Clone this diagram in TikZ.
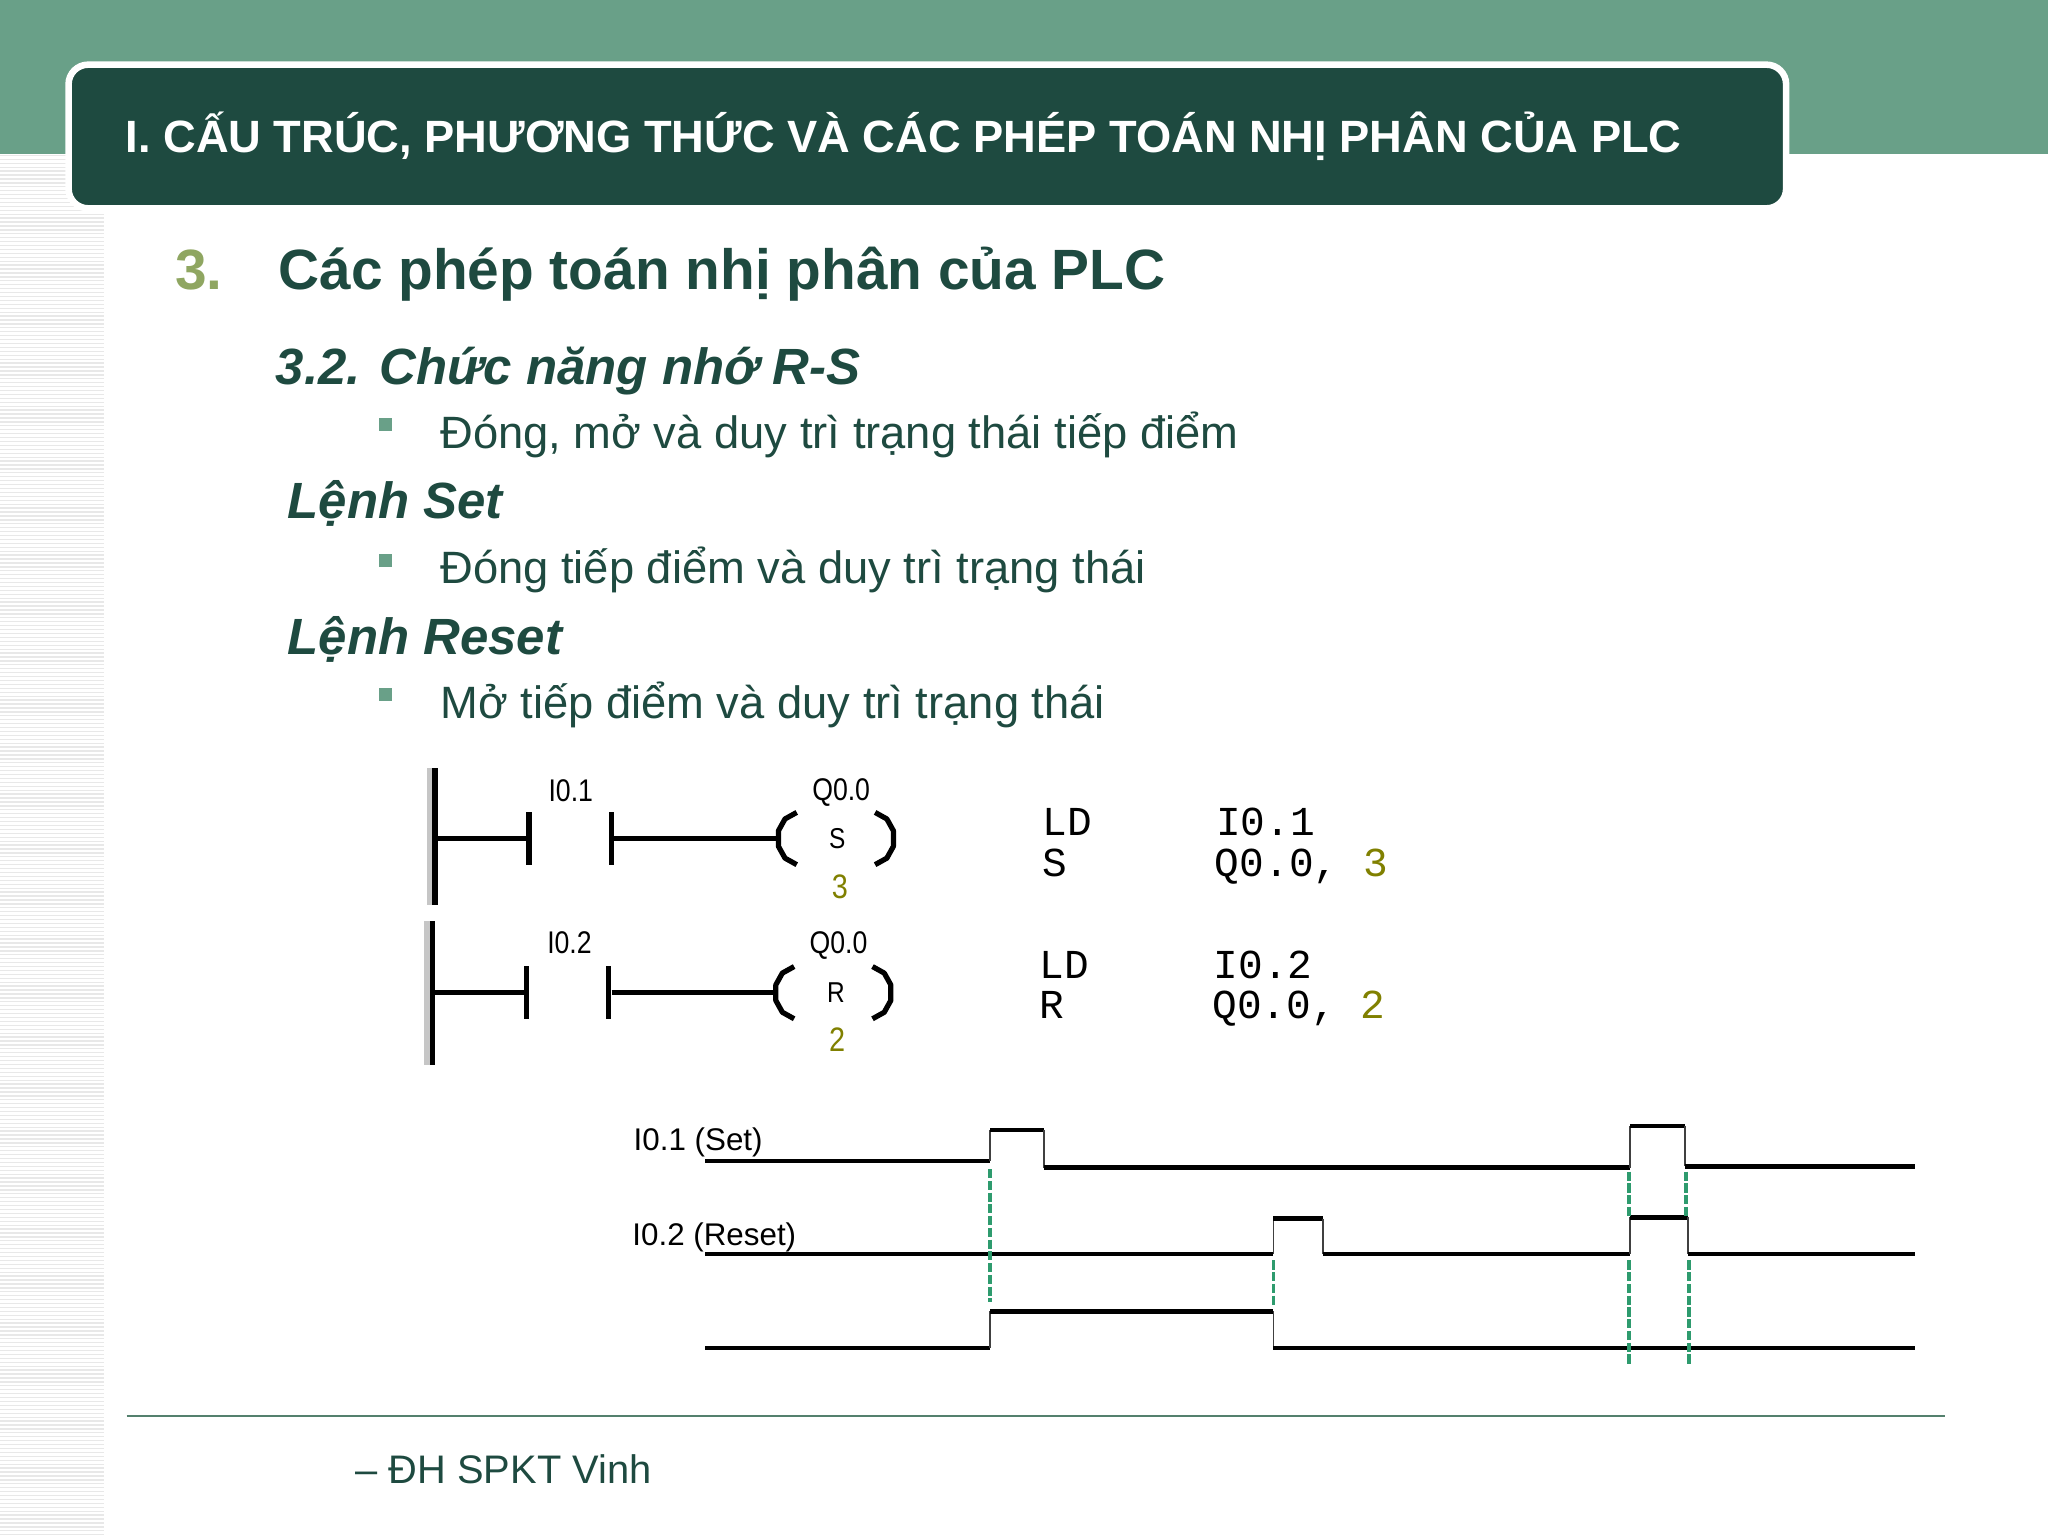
\documentclass[tikz,border=0pt]{standalone}
\usepackage{fontspec}
\setmainfont{Liberation Sans}
\newfontfamily\ilfont{Liberation Mono}
\usetikzlibrary {arrows.meta,
                 positioning}
\definecolor{bandgreen}{HTML}{69A088}
\definecolor{darkgreen}{HTML}{1E4A40}
\definecolor{numgreen}{HTML}{8FA661}
\definecolor{dashgreen}{HTML}{2E9B6E}
\definecolor{oliveval}{HTML}{808000}
\tikzset{
         titlebox/.style={draw=white, fill=darkgreen, line width=5pt, rounded corners=15pt, minimum width=1315pt, minimum height=110pt, inner sep=0pt},
         titletext/.style={anchor=base west, inner sep=0pt, text=white, font=\fontsize{34.65}{35}\selectfont\bfseries},
         headtext/.style={anchor=base west, inner sep=0pt, text=darkgreen, font=\fontsize{43.5}{44}\selectfont\bfseries},
         subtext/.style={anchor=base west, inner sep=0pt, text=darkgreen, font=\fontsize{39}{39}\selectfont\bfseries\itshape},
         bodytext/.style={anchor=base west, inner sep=0pt, text=darkgreen, font=\fontsize{34.7}{35}\selectfont},
         bulletbox/.style={fill=bandgreen, minimum size=10pt, inner sep=0pt},
         railbar/.style={fill=black, minimum width=4pt, inner sep=0pt},
         railshade/.style={fill=gray!45, minimum width=4pt, inner sep=0pt},
         contactbar/.style={fill=black, minimum width=4pt, minimum height=41pt, inner sep=0pt},
         ladderwire/.style={line width=4pt},
         coilarc/.style={line width=4pt, line join=round},
         ladlabel/.style={inner sep=0pt, xscale=0.85, font=\fontsize{24}{24}\selectfont},
         coiltext/.style={inner sep=0pt, xscale=0.85, font=\fontsize{22}{22}\selectfont},
         coilval/.style={inner sep=0pt, xscale=0.85, text=oliveval, font=\fontsize{26}{26}\selectfont},
         iltext/.style={anchor=base west, inner sep=0pt, font=\fontsize{31.5}{32}\ilfont},
         wavelabel/.style={anchor=west, inner sep=0pt, font=\fontsize{24}{24}\selectfont},
         wavelow/.style={line width=3.5pt},
         waveedge/.style={line width=1.5pt, black!75},
         syncline/.style={dashgreen, line width=3pt, dash pattern=on 7pt off 2pt},
}

\begin{document}
\begin{tikzpicture}[x=1pt, y=-1pt]
    \useasboundingbox (0,0) rectangle (1568,1176);

    % Nen
    \foreach \ypos in {119,122,...,1175} {
        \draw[black!9, line width=1pt] (0,\ypos) -- (80,\ypos);
    }
    \fill[bandgreen] (0,0) rectangle (1568,118);
    \node[titlebox] (titlebar) at (710,104.5) {};
    \node[titletext] (title) at (96,117) {I. CẤU TRÚC, PHƯƠNG THỨC VÀ CÁC PHÉP TOÁN NHỊ PHÂN CỦA PLC};

    % Noi dung
    \node[headtext, text=numgreen] (headnum) at (134,222) {3.};
    \node[headtext] (head) at (213,222) {Các phép toán nhị phân của PLC};
    \node[subtext] (sub) at (211,294) {3.2. Chức năng nhớ R-S};
    \node[bulletbox] (b1) at (295,325) {};
    \node[bodytext] (t1) at (337,343) {Đóng, mở và duy trì trạng thái tiếp điểm};
    \node[subtext] (setname) at (220,397) {Lệnh Set};
    \node[bulletbox] (b2) at (295,429) {};
    \node[bodytext] (t2) at (337,447) {Đóng tiếp điểm và duy trì trạng thái};
    \node[subtext] (resetname) at (220,501) {Lệnh Reset};
    \node[bulletbox] (b3) at (295,532) {};
    \node[bodytext] (t3) at (337,550) {Mở tiếp điểm và duy trì trạng thái};

    % Network 1
    \node[railshade, minimum height=105pt] (shade1) at (329,640.5) {};
    \node[railbar, minimum height=105pt] (rail1) at (333,640.5) {};
    \node[contactbar] (c1l) at (405,642) {};
    \node[contactbar] (c1r) at (468,642) {};
    \coordinate (coil1in) at (595,642);
    \draw[ladderwire] (rail1.east |- c1l) -- (c1l);
    \draw[ladderwire] (c1r) -- (coil1in);
    \draw[coilarc] (610,622) -- (601,627) -- (596,636) -- (596,648) -- (601,657) -- (610,662);
    \draw[coilarc] (670,622) -- (679,627) -- (684,636) -- (684,648) -- (679,657) -- (670,662);
    \node[ladlabel] (i01) at (437,605) {I0.1};
    \node[ladlabel] (q1) at (644,607) {Q0.0};
    \node[coiltext] (coil1) at (641,642) {S};
    \node[coilval] (val1) at (643,679) {3};

    % Network 2
    \node[railshade, minimum height=110pt] (shade2) at (327,760) {};
    \node[railbar, minimum height=110pt] (rail2) at (331,760) {};
    \node[contactbar] (c2l) at (403,760) {};
    \node[contactbar] (c2r) at (466,760) {};
    \coordinate (coil2in) at (593,760);
    \draw[ladderwire] (rail2) -- (c2l);
    \draw[ladderwire] (c2r) -- (coil2in);
    \draw[coilarc] (608,740) -- (599,745) -- (594,754) -- (594,766) -- (599,775) -- (608,780);
    \draw[coilarc] (668,740) -- (677,745) -- (682,754) -- (682,766) -- (677,775) -- (668,780);
    \node[ladlabel] (i02) at (436,722) {I0.2};
    \node[ladlabel] (q2) at (642,724) {Q0.0};
    \node[coiltext] (coil2) at (640,760) {R};
    \node[coilval] (val2) at (641,796) {2};

    % Lenh
    \node[iltext] (ld1) at (798,640) {LD};
    \node[iltext] (op1) at (931,640) {I0.1};
    \node[iltext] (s1) at (798,671) {S};
    \node[iltext] (op2) at (930,671) {Q0.0, \textcolor{oliveval}{3}};
    \node[iltext] (ld2) at (796,749) {LD};
    \node[iltext] (op3) at (929,749) {I0.2};
    \node[iltext] (r1) at (796,780) {R};
    \node[iltext] (op4) at (928,780) {Q0.0, \textcolor{oliveval}{2}};

    % Gian do thoi gian
    \node[wavelabel] (setlabel) at (485,875) {I0.1 (Set)};
    \node[wavelabel] (resetlabel) at (484,947) {I0.2 (Reset)};

    % I0.1
    \draw[wavelow] (540,889) -- (758,889);
    \draw[waveedge] (758,889) -- (758,865);
    \draw[wavelow] (758,865) -- (799,865);
    \draw[waveedge] (799,865) -- (799,894);
    \draw[wavelow] (799,894) -- (1248,894);
    \draw[waveedge] (1248,894) -- (1248,862);
    \draw[wavelow] (1248,862) -- (1290,862);
    \draw[waveedge] (1290,862) -- (1290,893);
    \draw[wavelow] (1290,893) -- (1466,893);

    % I0.2
    \draw[wavelow] (540,960) -- (975,960);
    \draw[waveedge] (975,960) -- (975,933);
    \draw[wavelow] (975,933) -- (1013,933);
    \draw[waveedge] (1013,933) -- (1013,960);
    \draw[wavelow] (1013,960) -- (1248,960);
    \draw[waveedge] (1248,960) -- (1248,932);
    \draw[wavelow] (1248,932) -- (1292,932);
    \draw[waveedge] (1292,932) -- (1292,960);
    \draw[wavelow] (1292,960) -- (1466,960);

    % Q0.0
    \draw[wavelow] (540,1032) -- (758,1032);
    \draw[waveedge] (758,1032) -- (758,1004);
    \draw[wavelow] (758,1004) -- (975,1004);
    \draw[waveedge] (975,1004) -- (975,1032);
    \draw[wavelow] (975,1032) -- (1466,1032);

    % Duong gioi han
    \draw[syncline] (758,895) -- (758,997);
    \draw[syncline] (975,965) -- (975,1000);
    \draw[syncline] (1247,897) -- (1247,932);
    \draw[syncline] (1291,897) -- (1291,932);
    \draw[syncline] (1247,965) -- (1247,1045);
    \draw[syncline] (1293,965) -- (1293,1045);

    % Chan trang
    \draw[bandgreen!80!black, line width=1.3pt] (97,1084) -- (1489,1084);
    \node[anchor=base west, inner sep=0pt, text=darkgreen, font=\fontsize{30.5}{31}\selectfont] (footer) at (272,1136) {– ĐH SPKT Vinh};
\end{tikzpicture}
\end{document}
